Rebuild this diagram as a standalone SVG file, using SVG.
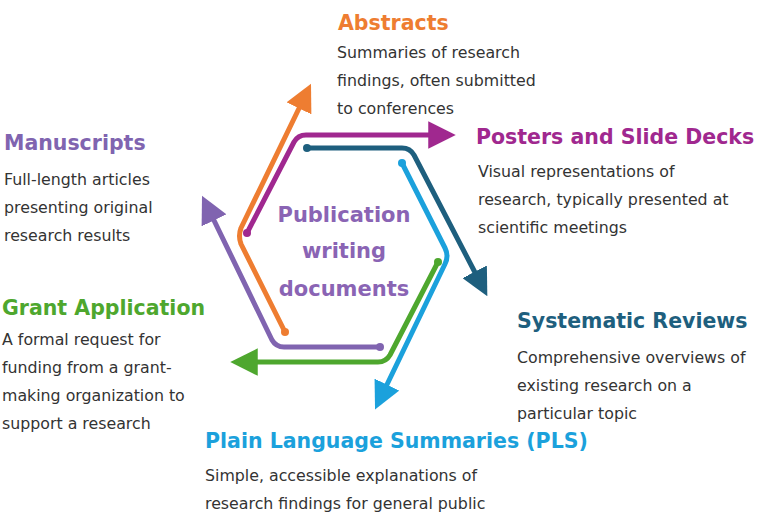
<svg xmlns="http://www.w3.org/2000/svg" width="768" height="520" viewBox="0 0 768 520">
<style>
.t{font-family:"DejaVu Sans",sans-serif;font-weight:bold;font-size:20.5px}
.d{font-family:"DejaVu Sans",sans-serif;font-size:15.8px;fill:#333}
.c{font-family:"DejaVu Sans",sans-serif;font-weight:bold;font-size:21px;fill:#8A64B4;text-anchor:middle}
.a{fill:none;stroke-width:5;stroke-linecap:round;stroke-linejoin:round}
</style>
<defs>
<marker id="m1" viewBox="0 0 10 10" refX="5" refY="5" markerWidth="5.5" markerHeight="5.5" orient="auto" markerUnits="strokeWidth"><path d="M0,0L10,5L0,10z" fill="#EE7D31"/></marker>
<marker id="m2" viewBox="0 0 10 10" refX="5" refY="5" markerWidth="5.5" markerHeight="5.5" orient="auto" markerUnits="strokeWidth"><path d="M0,0L10,5L0,10z" fill="#A0288F"/></marker>
<marker id="m3" viewBox="0 0 10 10" refX="5" refY="5" markerWidth="5.5" markerHeight="5.5" orient="auto" markerUnits="strokeWidth"><path d="M0,0L10,5L0,10z" fill="#1E5F7E"/></marker>
<marker id="m4" viewBox="0 0 10 10" refX="5" refY="5" markerWidth="5.5" markerHeight="5.5" orient="auto" markerUnits="strokeWidth"><path d="M0,0L10,5L0,10z" fill="#1BA1DC"/></marker>
<marker id="m5" viewBox="0 0 10 10" refX="5" refY="5" markerWidth="5.5" markerHeight="5.5" orient="auto" markerUnits="strokeWidth"><path d="M0,0L10,5L0,10z" fill="#4EA72E"/></marker>
<marker id="m6" viewBox="0 0 10 10" refX="5" refY="5" markerWidth="5.5" markerHeight="5.5" orient="auto" markerUnits="strokeWidth"><path d="M0,0L10,5L0,10z" fill="#8064B0"/></marker>
</defs>
<g id="connectors">
<path class="a" stroke="#EE7D31" d="M285,332 L241,244 Q238,236 241,228 L305,96" marker-end="url(#m1)"/>
<circle cx="285" cy="332" r="4" fill="#EE7D31"/>
<path class="a" stroke="#A0288F" d="M247,233 L294,142 Q298,135 306,135 L442,135" marker-end="url(#m2)"/>
<circle cx="247" cy="233" r="4" fill="#A0288F"/>
<path class="a" stroke="#1E5F7E" d="M307,148 L402,148 Q410,148 414,155 L481,284" marker-end="url(#m3)"/>
<circle cx="307" cy="148" r="4" fill="#1E5F7E"/>
<path class="a" stroke="#1BA1DC" d="M402,163 L445,248 Q449,256 445,264 L381,397" marker-end="url(#m4)"/>
<circle cx="402" cy="163" r="4" fill="#1BA1DC"/>
<path class="a" stroke="#4EA72E" d="M438,262 L390,355 Q386,362 378,362 L244,362" marker-end="url(#m5)"/>
<circle cx="438" cy="262" r="4" fill="#4EA72E"/>
<path class="a" stroke="#8064B0" d="M380,347 L284,347 Q276,347 272,340 L208,208" marker-end="url(#m6)"/>
<circle cx="380" cy="347" r="4" fill="#8064B0"/>
</g>
<g id="center"><text class="c" x="344" y="222">Publication</text><text class="c" x="344" y="258">writing</text><text class="c" x="344" y="296">documents</text></g>
<g id="abstracts"><text class="t" x="338" y="30" fill="#EE7D31">Abstracts</text>
<text class="d" x="337" y="58">Summaries of research</text><text class="d" x="337" y="86">findings, often submitted</text><text class="d" x="337" y="114">to conferences</text></g>
<g id="posters"><text class="t" x="476" y="144" fill="#A0288F">Posters and Slide Decks</text>
<text class="d" x="478" y="177">Visual representations of</text><text class="d" x="478" y="205">research, typically presented at</text><text class="d" x="478" y="233">scientific meetings</text></g>
<g id="manuscripts"><text class="t" x="4" y="150" fill="#8064B0">Manuscripts</text>
<text class="d" x="4" y="185">Full-length articles</text><text class="d" x="4" y="213">presenting original</text><text class="d" x="4" y="241">research results</text></g>
<g id="grant"><text class="t" x="2" y="315" fill="#4EA72E">Grant Application</text>
<text class="d" x="2" y="345">A formal request for</text><text class="d" x="2" y="373">funding from a grant-</text><text class="d" x="2" y="401">making organization to</text><text class="d" x="2" y="429">support a research</text></g>
<g id="systematic"><text class="t" x="517" y="328" fill="#1E5F7E">Systematic Reviews</text>
<text class="d" x="517" y="363">Comprehensive overviews of</text><text class="d" x="517" y="391">existing research on a</text><text class="d" x="517" y="419">particular topic</text></g>
<g id="pls"><text class="t" x="205" y="448" fill="#1BA1DC">Plain Language Summaries (PLS)</text>
<text class="d" x="205" y="481">Simple, accessible explanations of</text><text class="d" x="205" y="509">research findings for general public</text></g>
</svg>
